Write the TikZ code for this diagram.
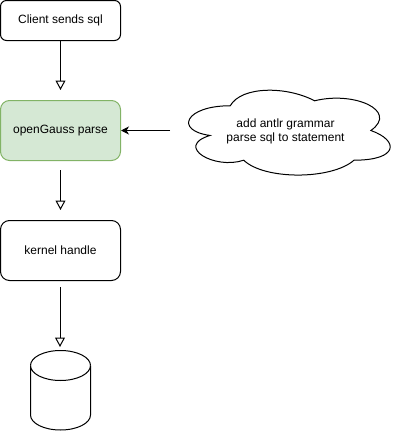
\documentclass[tikz,border=0pt]{standalone}
\usepackage{fontspec}
\setmainfont{Liberation Sans}
\usetikzlibrary{arrows.meta}
\definecolor{gfill}{HTML}{D5E8D4}
\definecolor{gline}{HTML}{82B366}
\tikzset{
  proc/.style={draw=black,line width=1pt,fill=white,minimum width=120pt,inner sep=0pt,font=\fontsize{12pt}{14pt}\selectfont},
  flow/.style={draw=black,line width=1pt,-{Triangle[open,length=9.5pt,width=10pt,line width=1pt]}},
  feed/.style={draw=black,line width=1pt,-{Stealth[length=8pt,width=8pt,inset=2.5pt]}},
  shapeline/.style={draw=black,line width=1pt},
  lab/.style={align=center,inner sep=0pt,font=\fontsize{12pt}{14pt}\selectfont}
}
\begin{document}
\begin{tikzpicture}[x=1pt,y=-1pt]
\useasboundingbox (0,0) rectangle (401,431);
\node[proc,minimum height=40pt,rounded corners=6pt] (client) at (60.5,20.5) {Client sends sql};
\node[proc,minimum height=60pt,rounded corners=9pt,draw=gline,fill=gfill] (parse) at (60.5,130.5) {openGauss parse};
\node[proc,minimum height=60pt,rounded corners=9pt] (kernel) at (60.5,250.5) {kernel handle};
% cloud
\def\cx{174}\def\cy{81}\def\cw{225}\def\ch{99}
\draw[shapeline,fill=white]
 ({\cx+.25*\cw},{\cy+.25*\ch})
 .. controls ({\cx+.05*\cw},{\cy+.25*\ch}) and ({\cx},{\cy+.5*\ch}) .. ({\cx+.16*\cw},{\cy+.55*\ch})
 .. controls ({\cx},{\cy+.66*\ch}) and ({\cx+.18*\cw},{\cy+.9*\ch}) .. ({\cx+.31*\cw},{\cy+.8*\ch})
 .. controls ({\cx+.4*\cw},{\cy+\ch}) and ({\cx+.7*\cw},{\cy+\ch}) .. ({\cx+.8*\cw},{\cy+.8*\ch})
 .. controls ({\cx+\cw},{\cy+.8*\ch}) and ({\cx+\cw},{\cy+.6*\ch}) .. ({\cx+.875*\cw},{\cy+.5*\ch})
 .. controls ({\cx+\cw},{\cy+.3*\ch}) and ({\cx+.8*\cw},{\cy+.1*\ch}) .. ({\cx+.625*\cw},{\cy+.2*\ch})
 .. controls ({\cx+.5*\cw},{\cy+.05*\ch}) and ({\cx+.3*\cw},{\cy+.05*\ch}) .. ({\cx+.25*\cw},{\cy+.25*\ch}) -- cycle;
\node[lab] (cloud) at (285.5,131) {add antlr grammar\\parse sql to statement};
% cylinder
\draw[shapeline,fill=white] (30.5,365.5) arc[start angle=180,end angle=360,x radius=30,y radius=-15]
  -- (90.5,415) arc[start angle=0,end angle=-180,x radius=30,y radius=-15] -- cycle;
\draw[shapeline] (30.5,365.5) arc[start angle=180,end angle=0,x radius=30,y radius=-15];
\coordinate (db) at (60,347);
\coordinate (a1) at (60.5,90);
\coordinate (a2s) at (60.5,170);
\coordinate (a2e) at (60.5,210);
\coordinate (a3s) at (60,287);
\coordinate (cl) at (170,130.5);
\draw[flow] (client.south) -- (a1);
\draw[flow] (a2s) -- (a2e);
\draw[flow] (a3s) -- (db);
\draw[feed] (cl) -- (parse.east);
\end{tikzpicture}
\end{document}
